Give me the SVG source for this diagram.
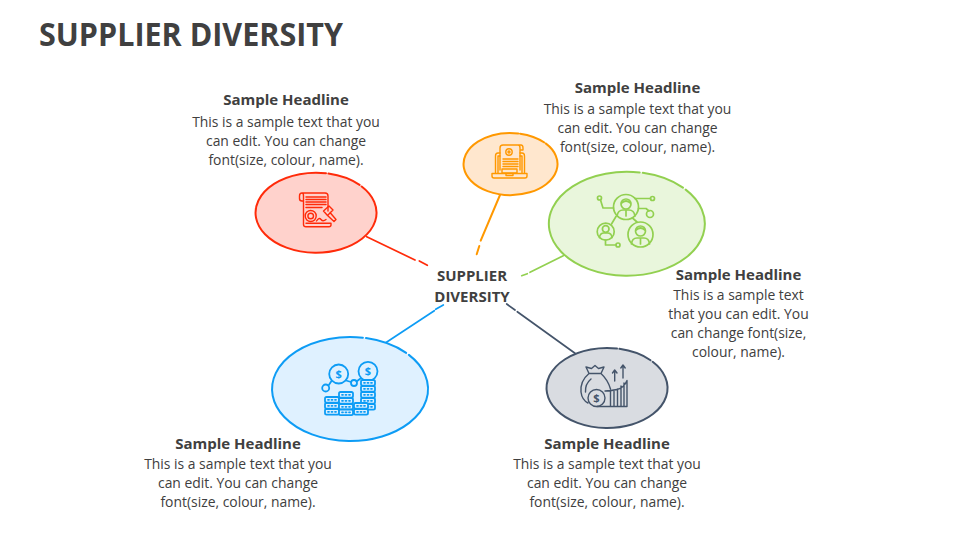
<svg xmlns="http://www.w3.org/2000/svg" width="960" height="540" viewBox="0 0 960 540">
<style>
text{font-family:"Open Sans","Noto Sans","Liberation Sans",sans-serif;fill:#404040;text-anchor:middle}
.t{font-size:32px;font-weight:700;text-anchor:start}
.h{font-size:15px;font-weight:700}
.b{font-size:13.9px}
.c{font-size:15px;font-weight:700}
.ol,.ic,.ln{fill:none;stroke-linecap:round;stroke-linejoin:round}
.ol{stroke-width:2}
.ln{stroke-width:1.7}
.ic{stroke-width:1.4}
.d{font-size:11px;font-weight:700;stroke:none}
.red{stroke:#FF2B0A}.org{stroke:#FF9800}.grn{stroke:#92D050}.blu{stroke:#0D9CF5}.sla{stroke:#44546A}
</style>
<defs>
<g id="coin"><rect x="0" y="0" width="14" height="5.6" rx="1.6"/><path d="M3 2.8h1M6.5 2.8h1M10 2.8h1"/></g>
</defs>
<rect width="960" height="540" fill="#fff"/>
<text class="t" x="39" y="46" textLength="304" lengthAdjust="spacingAndGlyphs">SUPPLIER DIVERSITY</text>
<g id="connectors" class="ln">
<path class="red" d="M366.7 236.7L415 260M419.3 261L427.3 265.3"/>
<path class="org" stroke-width="2" d="M500 195L480.7 240.7M479.3 246L476.7 254.3"/>
<path class="grn" d="M563.3 255.7L530 272.3M527.3 273.7L521.7 275.7"/>
<path class="blu" d="M385.7 342.7L434.3 310.7M435.7 309.3L443.3 305"/>
<path class="sla" d="M575 353.3L517.3 311.7M515 310L506.7 304"/>
</g>
<g id="center"><text class="c" x="472" y="281">SUPPLIER</text><text class="c" x="472" y="302">DIVERSITY</text></g>
<g id="node-red">
<ellipse cx="316" cy="212.7" rx="60.5" ry="40" fill="#FFD2CC"/>
<path class="ol red" d="M328.4 173.54A60.5 40 0 0 1 359.56 184.94M361.68 186.46A60.5 40 0 1 1 325.98 173.26"/>
<g class="ic red">
<path d="M302 193H325Q328 193 328 196V211M302 193Q299.500 193 299.500 196V198.500Q299.500 201 302 201H303.500M302 193Q303.500 193 303.500 196V223M303.500 222V224.500Q303.500 226.700 306 226.700H329Q331 226.700 331 225V223.300H306"/>
<path stroke-width="1.500" d="M306 197H326M306 199.500H326M306 202H326M306 204.500H326M306 207.500H322"/>
<circle cx="310.700" cy="216" r="5.500"/><circle cx="310.700" cy="216" r="2.800"/>
<path d="M316.500 221Q319 217 321 219.500T326 219.500"/>
<path d="M323.500 211L329 206L333 210L327.500 215.500ZM330 212.500L336 219.500L334 221.500L327 215"/>
</g>
<g><text class="h" x="286" y="105">Sample Headline</text><text class="b" x="286" y="127">This is a sample text that you</text><text class="b" x="286" y="146">can edit. You can change</text><text class="b" x="286" y="165">font(size, colour, name).</text></g>
</g>
<g id="node-orange">
<ellipse cx="510.500" cy="164" rx="47" ry="31" fill="#FFE7CE"/>
<path class="ol org" d="M520.14 133.65A47 31 0 0 1 544.34 142.49M545.99 143.66A47 31 0 1 1 518.26 133.43"/>
<g class="ic org">
<path d="M492 173.500H527V176Q527 178 525 178H494Q492 178 492 176ZM495.500 173V156Q495.500 153 498 153H500M520 153H522Q524.500 153 524.500 156V173M498 173V156H500M520 156H522V173"/>
<path d="M500 170V148Q500 145 503 145H521Q523 145 523 148V150H520M520 148V170M518 145Q520 145 520 148"/>
<circle cx="509" cy="152" r="3.200"/><circle cx="509" cy="152" r="1"/>
<path d="M503 159H518M503 161.500H518M503 164H518M503 166.500H518"/>
<path d="M502 169H517V173H502ZM506 173.500V175.500H513V173.500"/>
</g>
<g><text class="h" x="637.500" y="93">Sample Headline</text><text class="b" x="637.500" y="114">This is a sample text that you</text><text class="b" x="637.500" y="133">can edit. You can change</text><text class="b" x="637.500" y="152">font(size, colour, name).</text></g>
</g>
<g id="node-green">
<ellipse cx="626.800" cy="223.700" rx="78" ry="52" fill="#E9F6DC"/>
<path class="ol grn" d="M642.79 172.79A78 52 0 0 1 682.96 187.61M685.69 189.59A78 52 0 1 1 639.67 172.43"/>
<g class="ic grn" style="stroke-width:1.700">
<circle cx="626" cy="207" r="12.500"/><circle cx="605.700" cy="231.700" r="8.500"/><circle cx="640.500" cy="234.500" r="12.500"/>
<circle cx="599.500" cy="198" r="2"/><circle cx="652.500" cy="198.500" r="2"/><circle cx="650" cy="214" r="3.500"/><circle cx="618" cy="245" r="2"/>
<path d="M600.500 200L603 208H613.500M635 198.500H650.500M638.500 208.500H646L649 211M616 216.500L611.500 224M632.500 218L637 222M605.500 240V245H616"/>
<circle cx="626" cy="204" r="5"/><path d="M617 216Q618 210 623 210H629Q634 210 635 216M621.500 203Q626 199 630.500 203M626 211V216"/>
<circle cx="605.700" cy="229" r="3.300"/><path d="M599.500 237.500Q600 233 604 233H607.500Q611.500 233 612 237.500"/>
<circle cx="640.500" cy="231" r="5"/><path d="M631.500 244Q632 238 637 238H644Q649 238 649.500 244M636 230Q640.500 226 645 230M640.500 239V244"/>
</g>
<g><text class="h" x="738.500" y="280">Sample Headline</text><text class="b" x="738.500" y="300">This is a sample text</text><text class="b" x="738.500" y="319">that you can edit. You</text><text class="b" x="738.500" y="338">can change font(size,</text><text class="b" x="738.500" y="357">colour, name).</text></g>
</g>
<g id="node-blue">
<ellipse cx="350" cy="389" rx="78" ry="52" fill="#DFF1FF"/>
<path class="ol blu" d="M365.99 338.09A78 52 0 0 1 406.16 352.91M408.89 354.89A78 52 0 1 1 362.87 337.73"/>
<g class="ic blu" style="fill:#DFF1FF;stroke-width:1.800">
<circle cx="338.700" cy="374" r="9.500"/><circle cx="368" cy="371.300" r="9.500"/><circle cx="325.700" cy="388" r="3.500"/><circle cx="354" cy="383" r="3"/>
<path d="M328.500 385.500L331.500 381M346 380.500L351 382M356.500 381.500L360.500 378.500" fill="none"/>
<use href="#coin" x="361" y="404"/><use href="#coin" x="361" y="398"/><use href="#coin" x="361" y="392"/><use href="#coin" x="361" y="386"/><use href="#coin" x="361" y="380"/>
<use href="#coin" x="325" y="397"/><use href="#coin" x="325" y="403"/><use href="#coin" x="325" y="409"/>
<use href="#coin" x="339" y="392"/><use href="#coin" x="339" y="398"/><use href="#coin" x="339" y="404"/><use href="#coin" x="339" y="409.500"/>
<use href="#coin" x="354" y="403"/><use href="#coin" x="354" y="409"/>
</g>
<text class="d" x="338.700" y="378" style="fill:#0D9CF5">$</text><text class="d" x="368" y="375.300" style="fill:#0D9CF5">$</text>
<g><text class="h" x="238" y="449">Sample Headline</text><text class="b" x="238" y="469">This is a sample text that you</text><text class="b" x="238" y="488">can edit. You can change</text><text class="b" x="238" y="507">font(size, colour, name).</text></g>
</g>
<g id="node-slate">
<ellipse cx="607" cy="388" rx="60.500" ry="40" fill="#D9DCE1"/>
<path class="ol sla" d="M619.4 348.84A60.5 40 0 0 1 650.56 360.24M652.68 361.76A60.5 40 0 1 1 616.98 348.56"/>
<g class="ic sla">
<path d="M589 373.500L586 367L591.500 368.500L595 365.500L598.500 368.500L604 367L601 373.500ZM589 373.500Q580 381 581 392Q582 400 588 403M601 373.500Q608 380 610.500 389"/>
<path d="M585.500 392Q585 384 591 379"/>
<circle cx="596.500" cy="398" r="8.500"/>
<path d="M597 406.500H627V380.500Q624 388 617 389.500T605 391M610.500 390V406M614 390V406M617.500 389V406M621 386V406M624 383V406"/>
<path d="M614.700 381V371M612.500 373L614.700 370L617 373M623 378V366M620.800 368L623 365L625.200 368"/>
</g>
<text class="d" x="596.500" y="402" style="fill:#44546A">$</text>
<g><text class="h" x="607" y="449">Sample Headline</text><text class="b" x="607" y="469">This is a sample text that you</text><text class="b" x="607" y="488">can edit. You can change</text><text class="b" x="607" y="507">font(size, colour, name).</text></g>
</g>
</svg>
